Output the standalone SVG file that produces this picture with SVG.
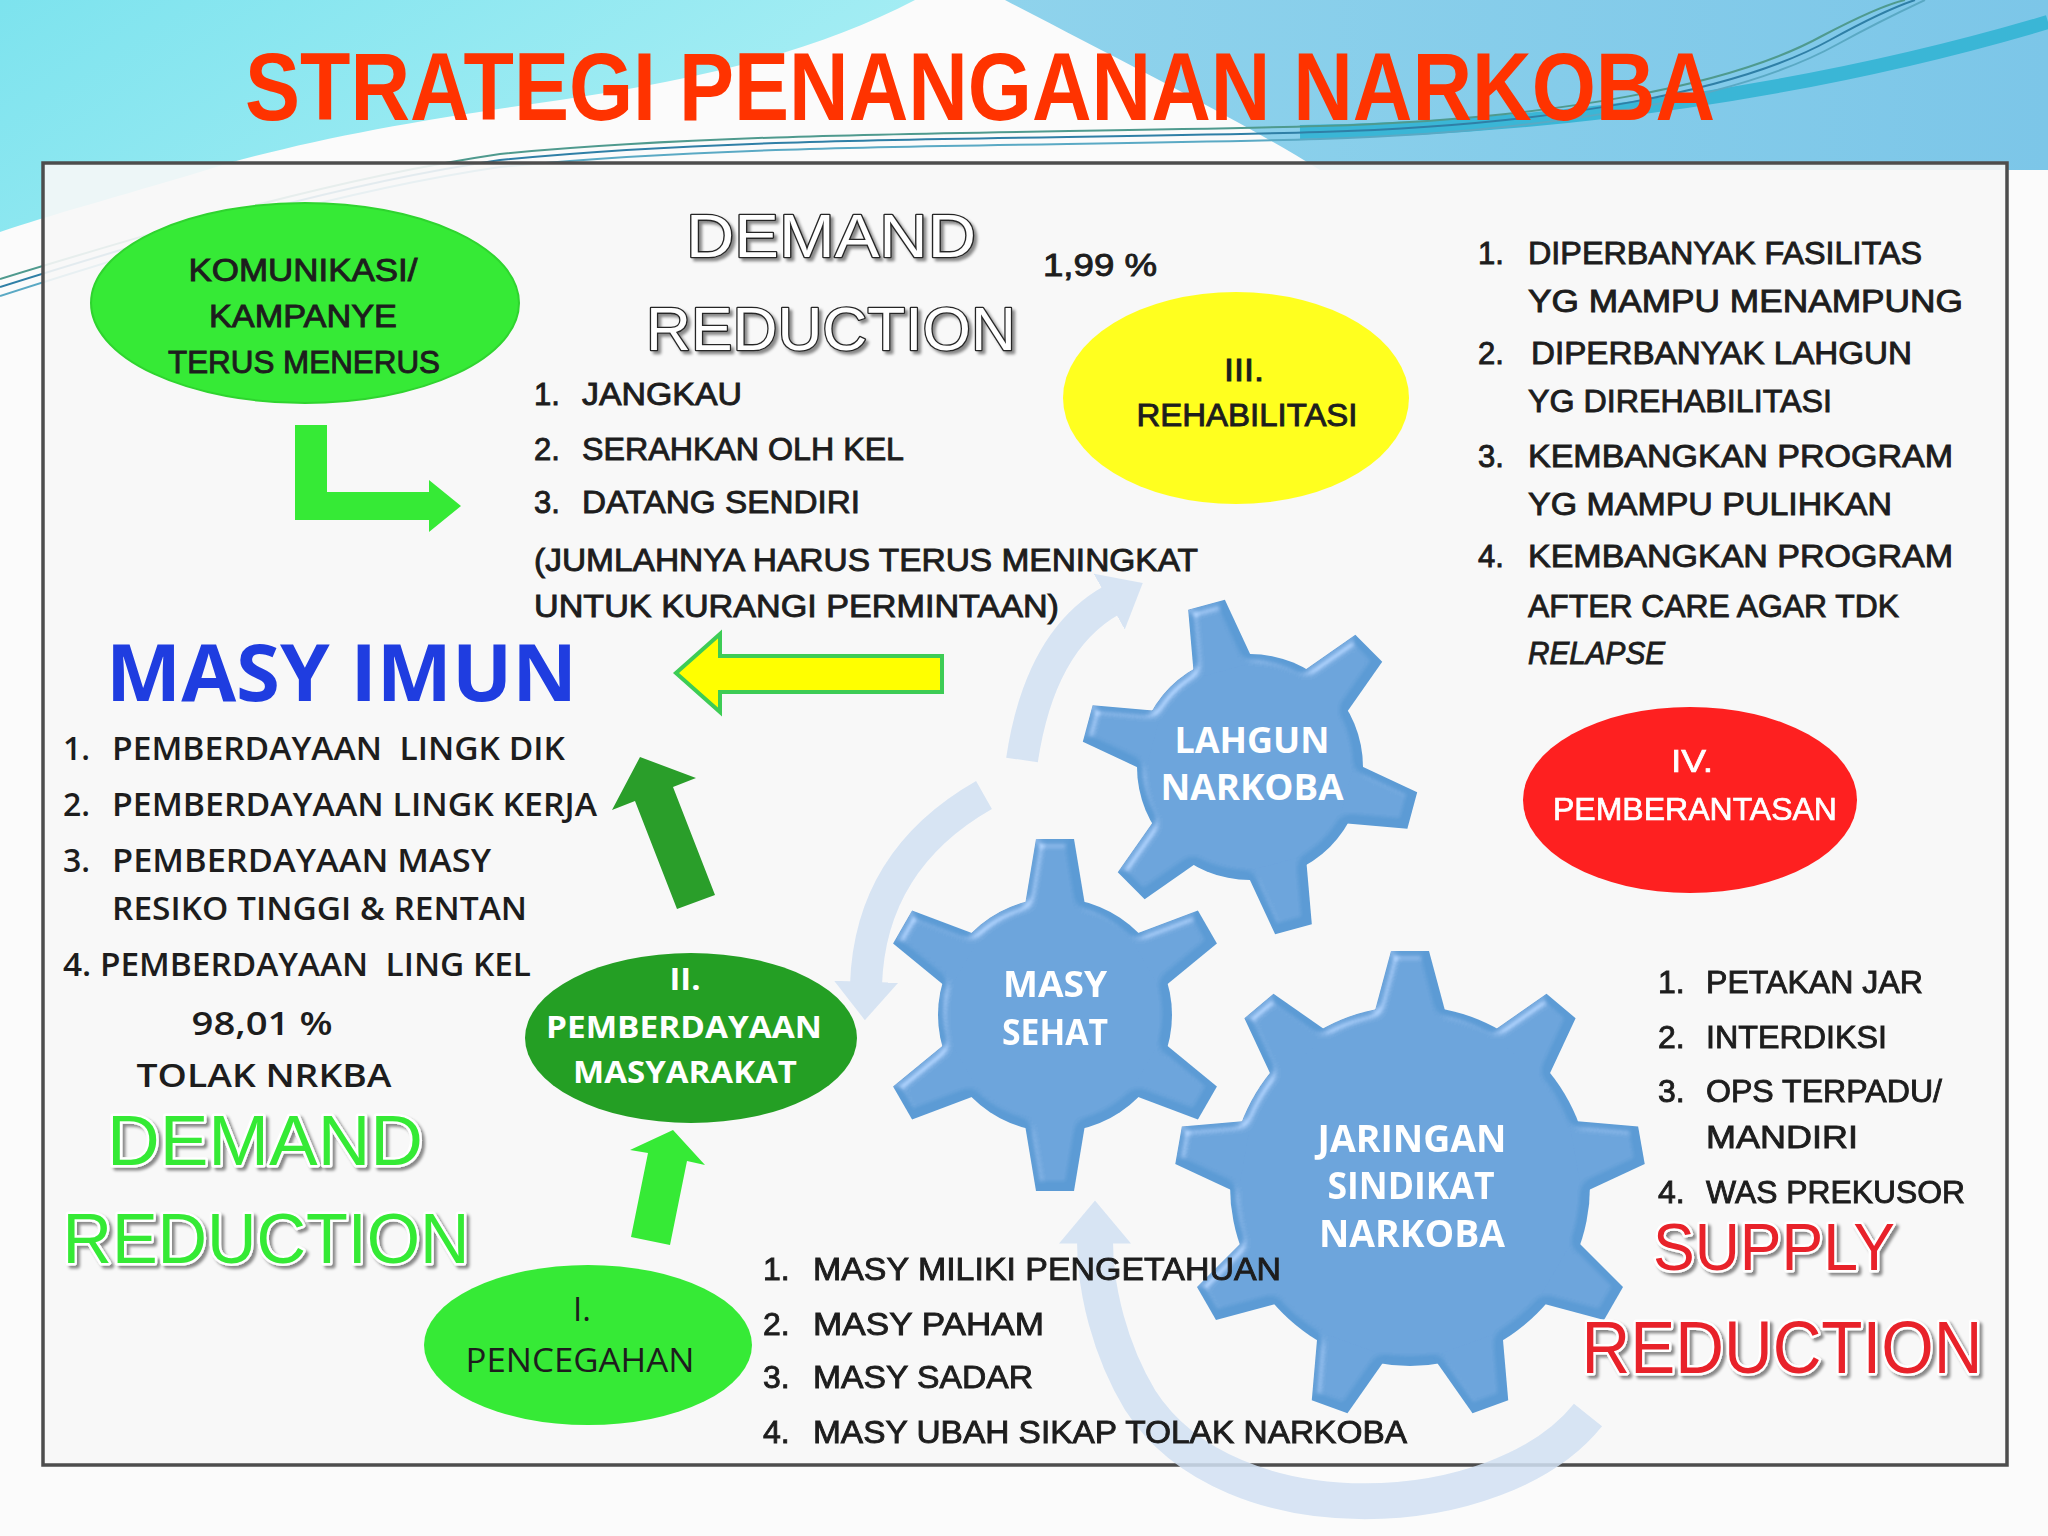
<svg xmlns="http://www.w3.org/2000/svg" width="2048" height="1536" viewBox="0 0 2048 1536">
<defs>
<style>
.cal{font-family:"Liberation Sans",Arial,sans-serif;}
.os{font-family:"Open Sans","Liberation Sans",Arial,sans-serif;}
.dk{fill:#1d1d1d;}
.cal.dk{stroke:#1d1d1d;stroke-width:0.9;}
.cal.wt{stroke:#ffffff;stroke-width:0.7;}
.l31{font-size:31px;}
.l32{font-size:32px;}
.wt{fill:#ffffff;}
.gear{fill:#5b9bd5;}
.arc{fill:none;stroke:#d2e1f3;marker-end:url(#ah);}
.outl{font-family:"Liberation Sans",Arial,sans-serif;paint-order:stroke;stroke-linejoin:round;}
.wave{fill:none;stroke-width:2;}
</style>
<linearGradient id="cyanG" x1="0" y1="0" x2="1" y2="0.4">
<stop offset="0" stop-color="#7de3ee"/>
<stop offset="1" stop-color="#a8eef4"/>
</linearGradient>
<linearGradient id="blueG" x1="0" y1="0" x2="1" y2="0">
<stop offset="0" stop-color="#8fd3ec"/>
<stop offset="1" stop-color="#7cc6e8"/>
</linearGradient>
<filter id="bevel" x="-10%" y="-10%" width="120%" height="120%">
<feGaussianBlur in="SourceAlpha" stdDeviation="5" result="blur"/>
<feSpecularLighting in="blur" surfaceScale="6" specularConstant="0.7" specularExponent="18" lighting-color="#ffffff" result="spec">
<feDistantLight azimuth="225" elevation="40"/>
</feSpecularLighting>
<feComposite in="spec" in2="SourceAlpha" operator="in" result="specIn"/>
<feComposite in="SourceGraphic" in2="specIn" operator="arithmetic" k1="0" k2="1" k3="0.4" k4="0"/>
</filter>
<filter id="tshadow" x="-10%" y="-20%" width="120%" height="150%">
<feDropShadow dx="3" dy="3" stdDeviation="1.6" flood-color="#000" flood-opacity="0.45"/>
</filter>
<marker id="ah" viewBox="0 -10 12 20" refX="1" refY="0" markerWidth="1.2" markerHeight="2" orient="auto" markerUnits="strokeWidth">
<path d="M0,-10 L12,0 L0,10 Z" fill="#d2e1f3"/>
</marker>
<polygon id="toothLa" points="-31,-100 -19,-168 19,-168 31,-100"/>
<polygon id="toothMs" points="-31,-104 -19,-176 19,-176 31,-104"/>
<polygon id="toothJr" points="-37,-168 -19,-235 19,-235 37,-168"/>
</defs>

<!-- background -->
<rect x="0" y="0" width="2048" height="1536" fill="#fbfbfb"/>
<path d="M0 0 L915 0 C 820 50, 700 80, 560 100 C 430 118, 300 140, 200 172 C 120 196, 50 215, 0 232 Z" fill="url(#cyanG)"/>
<path d="M1005 0 H2048 V170 H1320 C 1240 120, 1120 60, 1005 0 Z" fill="url(#blueG)"/>
<path d="M1300 132 C 1560 128, 1820 90, 2048 22" fill="none" stroke="#3ab6d6" stroke-width="14"/>
<path class="wave" stroke="#2f7fa6" d="M0 287 C 150 240, 330 185, 500 160 C 750 135, 1050 140, 1320 132 C 1560 125, 1740 90, 1830 40 C 1870 18, 1900 5, 1915 0"/>
<path class="wave" stroke="#5aa9c4" d="M0 296 C 150 248, 330 192, 500 167 C 750 142, 1050 147, 1320 139 C 1560 132, 1745 96, 1838 44 C 1878 22, 1908 8, 1925 0"/>
<path class="wave" stroke="#4f9a8e" d="M0 279 C 150 233, 330 179, 500 154 C 750 130, 1050 134, 1320 126 C 1560 119, 1735 84, 1822 36 C 1862 15, 1892 3, 1905 0"/>

<!-- title -->
<text x="245" y="120" class="cal" font-size="97" font-weight="bold" fill="#ff3300" textLength="1470" lengthAdjust="spacingAndGlyphs">STRATEGI PENANGANAN NARKOBA</text>

<!-- content box -->
<rect x="43" y="163" width="1964" height="1302" fill="#f7f7f7" fill-opacity="0.9" stroke="#4d4d4d" stroke-width="3.5"/>

<!-- connectors -->
<g id="connectors">
<polygon points="295,425 327,425 327,492 429,492 429,480 461,506 429,532 429,520 295,520" fill="#36ea36"/>
<polygon points="676,673 720,634 720,656 942,656 942,692 720,692 720,712" fill="#ffff00" stroke="#3dcc55" stroke-width="4" stroke-linejoin="miter"/>
<polygon points="640,757 696,778 673,787 715,895 677,909 635,801 612,810" fill="#2a9e2a"/>
<polygon points="673,1130 705,1165 687,1161 670,1245 631,1237 648,1153 630,1150" fill="#36ea36"/>
<g opacity="0.85">
<path class="arc" stroke-width="32" d="M 1022 760 Q 1040 640 1112 600"/>
<path class="arc" stroke-width="32" d="M 984 795 Q 870 860 866 985"/>
<path class="arc" stroke-width="36" d="M 1588 1415 C 1500 1525 1230 1540 1140 1400 C 1110 1350 1095 1290 1095 1240"/>
</g>
</g>

<!-- nodes -->
<g id="komunikasi">
<ellipse cx="305" cy="303" rx="214" ry="100" fill="#36ea36" stroke="#2fd42f" stroke-width="2"/>
<text class="cal dk l31" text-anchor="middle" x="303" y="281" textLength="229" lengthAdjust="spacingAndGlyphs">KOMUNIKASI/</text>
<text class="cal dk l31" text-anchor="middle" x="303" y="327" textLength="188" lengthAdjust="spacingAndGlyphs">KAMPANYE</text>
<text class="cal dk l31" text-anchor="middle" x="304" y="373" textLength="272" lengthAdjust="spacingAndGlyphs">TERUS MENERUS</text>
</g>

<g id="demand-reduction-top" filter="url(#tshadow)">
<text class="outl" text-anchor="middle" x="831" y="257" font-size="62" fill="#ffffff" stroke="#262626" stroke-width="2.6" textLength="290" lengthAdjust="spacingAndGlyphs">DEMAND</text>
<text class="outl" text-anchor="middle" x="831" y="350" font-size="62" fill="#ffffff" stroke="#262626" stroke-width="2.6" textLength="370" lengthAdjust="spacingAndGlyphs">REDUCTION</text>
</g>

<g id="percent-demand">
<text class="cal dk l32" x="1043" y="276" textLength="114" lengthAdjust="spacingAndGlyphs">1,99 %</text>
</g>

<g id="rehabilitasi">
<ellipse cx="1236" cy="398" rx="173" ry="106" fill="#ffff1f"/>
<text class="cal dk l31" text-anchor="middle" x="1244" y="381" textLength="40" lengthAdjust="spacingAndGlyphs">III.</text>
<text class="cal dk l31" text-anchor="middle" x="1247" y="426" textLength="221" lengthAdjust="spacingAndGlyphs">REHABILITASI</text>
</g>

<g id="list-demand">
<text class="cal dk l31" x="534" y="405">1.</text>
<text class="cal dk l31" x="582" y="405" textLength="160" lengthAdjust="spacingAndGlyphs">JANGKAU</text>
<text class="cal dk l31" x="534" y="460">2.</text>
<text class="cal dk l31" x="582" y="460" textLength="322" lengthAdjust="spacingAndGlyphs">SERAHKAN OLH KEL</text>
<text class="cal dk l31" x="534" y="513">3.</text>
<text class="cal dk l31" x="582" y="513" textLength="278" lengthAdjust="spacingAndGlyphs">DATANG SENDIRI</text>
<text class="cal dk l31" x="534" y="571" textLength="664" lengthAdjust="spacingAndGlyphs">(JUMLAHNYA HARUS TERUS MENINGKAT</text>
<text class="cal dk l31" x="534" y="617" textLength="525" lengthAdjust="spacingAndGlyphs">UNTUK KURANGI PERMINTAAN)</text>
</g>

<g id="list-rehabilitasi">
<text class="cal dk l31" x="1478" y="264">1.</text>
<text class="cal dk l31" x="1528" y="264" textLength="394" lengthAdjust="spacingAndGlyphs">DIPERBANYAK FASILITAS</text>
<text class="cal dk l31" x="1528" y="312" textLength="435" lengthAdjust="spacingAndGlyphs">YG MAMPU MENAMPUNG</text>
<text class="cal dk l31" x="1478" y="364">2.</text>
<text class="cal dk l31" x="1531" y="364" textLength="381" lengthAdjust="spacingAndGlyphs">DIPERBANYAK LAHGUN</text>
<text class="cal dk l31" x="1528" y="412" textLength="304" lengthAdjust="spacingAndGlyphs">YG DIREHABILITASI</text>
<text class="cal dk l31" x="1478" y="467">3.</text>
<text class="cal dk l31" x="1528" y="467" textLength="425" lengthAdjust="spacingAndGlyphs">KEMBANGKAN PROGRAM</text>
<text class="cal dk l31" x="1528" y="515" textLength="364" lengthAdjust="spacingAndGlyphs">YG MAMPU PULIHKAN</text>
<text class="cal dk l31" x="1478" y="567">4.</text>
<text class="cal dk l31" x="1528" y="567" textLength="425" lengthAdjust="spacingAndGlyphs">KEMBANGKAN PROGRAM</text>
<text class="cal dk l31" x="1528" y="617" textLength="371" lengthAdjust="spacingAndGlyphs">AFTER CARE AGAR TDK</text>
<text class="cal dk l31" x="1528" y="664" font-style="italic" textLength="137" lengthAdjust="spacingAndGlyphs">RELAPSE</text>
</g>

<g id="masy-imun">
<text class="os" x="106" y="701" font-size="78" font-weight="bold" fill="#1f3de0" textLength="471" lengthAdjust="spacingAndGlyphs">MASY IMUN</text>
</g>

<g id="list-imun" class="os dk" font-size="32" font-weight="600">
<text x="63" y="760">1.</text>
<text x="112" y="760" textLength="453" lengthAdjust="spacingAndGlyphs" xml:space="preserve">PEMBERDAYAAN  LINGK DIK</text>
<text x="63" y="816">2.</text>
<text x="112" y="816" textLength="485" lengthAdjust="spacingAndGlyphs">PEMBERDAYAAN LINGK KERJA</text>
<text x="63" y="872">3.</text>
<text x="112" y="872" textLength="379" lengthAdjust="spacingAndGlyphs">PEMBERDAYAAN MASY</text>
<text x="112" y="920" textLength="415" lengthAdjust="spacingAndGlyphs">RESIKO TINGGI &amp; RENTAN</text>
<text x="63" y="976" textLength="468" lengthAdjust="spacingAndGlyphs" xml:space="preserve">4. PEMBERDAYAAN  LING KEL</text>
<text x="262" y="1035" text-anchor="middle" textLength="141" lengthAdjust="spacingAndGlyphs">98,01 %</text>
<text x="264" y="1087" text-anchor="middle" textLength="255" lengthAdjust="spacingAndGlyphs">TOLAK NRKBA</text>
</g>

<g id="demand-reduction-left" filter="url(#tshadow)">
<text class="outl" text-anchor="middle" x="265" y="1165" font-size="70" fill="#36ea36" stroke="#ffffff" stroke-width="5" textLength="316" lengthAdjust="spacingAndGlyphs">DEMAND</text>
<text class="outl" text-anchor="middle" x="266" y="1263" font-size="70" fill="#36ea36" stroke="#ffffff" stroke-width="5" textLength="407" lengthAdjust="spacingAndGlyphs">REDUCTION</text>
</g>

<g id="pemberdayaan">
<ellipse cx="691" cy="1038" rx="166" ry="85" fill="#249f24"/>
<text class="os wt" text-anchor="middle" x="685" y="990" font-size="31" font-weight="bold" textLength="31" lengthAdjust="spacingAndGlyphs">II.</text>
<text class="os wt" text-anchor="middle" x="684" y="1038" font-size="31" font-weight="bold" textLength="276" lengthAdjust="spacingAndGlyphs">PEMBERDAYAAN</text>
<text class="os wt" text-anchor="middle" x="685" y="1083" font-size="31" font-weight="bold" textLength="224" lengthAdjust="spacingAndGlyphs">MASYARAKAT</text>
</g>

<g id="pencegahan">
<ellipse cx="588" cy="1345" rx="164" ry="80" fill="#36ea36"/>
<text class="os dk" text-anchor="middle" x="582" y="1321" font-size="33">I.</text>
<text class="os dk" text-anchor="middle" x="580" y="1372" font-size="33" textLength="229" lengthAdjust="spacingAndGlyphs">PENCEGAHAN</text>
</g>

<g id="gear-lahgun">
<g class="gear" filter="url(#bevel)" transform="translate(1250,767)">
<circle r="113"/>
<use href="#toothLa" transform="rotate(-15)"/>
<use href="#toothLa" transform="rotate(45)"/>
<use href="#toothLa" transform="rotate(105)"/>
<use href="#toothLa" transform="rotate(165)"/>
<use href="#toothLa" transform="rotate(225)"/>
<use href="#toothLa" transform="rotate(285)"/>
</g>
<text class="os wt" text-anchor="middle" x="1252" y="753" font-size="36" font-weight="bold" textLength="155" lengthAdjust="spacingAndGlyphs">LAHGUN</text>
<text class="os wt" text-anchor="middle" x="1252" y="800" font-size="36" font-weight="bold" textLength="183" lengthAdjust="spacingAndGlyphs">NARKOBA</text>
</g>

<g id="gear-masy-sehat">
<g class="gear" filter="url(#bevel)" transform="translate(1055,1015)">
<circle r="117"/>
<use href="#toothMs"/>
<use href="#toothMs" transform="rotate(60)"/>
<use href="#toothMs" transform="rotate(120)"/>
<use href="#toothMs" transform="rotate(180)"/>
<use href="#toothMs" transform="rotate(240)"/>
<use href="#toothMs" transform="rotate(300)"/>
</g>
<text class="os wt" text-anchor="middle" x="1055" y="997" font-size="36" font-weight="bold" textLength="104" lengthAdjust="spacingAndGlyphs">MASY</text>
<text class="os wt" text-anchor="middle" x="1055" y="1045" font-size="36" font-weight="bold" textLength="106" lengthAdjust="spacingAndGlyphs">SEHAT</text>
</g>

<g id="gear-jaringan">
<g class="gear" filter="url(#bevel)" transform="translate(1410,1186)">
<circle r="180"/>
<use href="#toothJr"/>
<use href="#toothJr" transform="rotate(40)"/>
<use href="#toothJr" transform="rotate(80)"/>
<use href="#toothJr" transform="rotate(120)"/>
<use href="#toothJr" transform="rotate(160)"/>
<use href="#toothJr" transform="rotate(200)"/>
<use href="#toothJr" transform="rotate(240)"/>
<use href="#toothJr" transform="rotate(280)"/>
<use href="#toothJr" transform="rotate(320)"/>
</g>
<text class="os wt" text-anchor="middle" x="1412" y="1152" font-size="38" font-weight="bold" textLength="189" lengthAdjust="spacingAndGlyphs">JARINGAN</text>
<text class="os wt" text-anchor="middle" x="1411" y="1199" font-size="38" font-weight="bold" textLength="167" lengthAdjust="spacingAndGlyphs">SINDIKAT</text>
<text class="os wt" text-anchor="middle" x="1412" y="1247" font-size="38" font-weight="bold" textLength="186" lengthAdjust="spacingAndGlyphs">NARKOBA</text>
</g>

<g id="list-pencegahan">
<text class="cal dk l32" x="763" y="1280">1.</text>
<text class="cal dk l32" x="813" y="1280" textLength="468" lengthAdjust="spacingAndGlyphs">MASY MILIKI PENGETAHUAN</text>
<text class="cal dk l32" x="763" y="1335">2.</text>
<text class="cal dk l32" x="813" y="1335" textLength="231" lengthAdjust="spacingAndGlyphs">MASY PAHAM</text>
<text class="cal dk l32" x="763" y="1388">3.</text>
<text class="cal dk l32" x="813" y="1388" textLength="220" lengthAdjust="spacingAndGlyphs">MASY SADAR</text>
<text class="cal dk l32" x="763" y="1443">4.</text>
<text class="cal dk l32" x="813" y="1443" textLength="594" lengthAdjust="spacingAndGlyphs">MASY UBAH SIKAP TOLAK NARKOBA</text>
</g>

<g id="pemberantasan">
<ellipse cx="1690" cy="800" rx="167" ry="93" fill="#fe2020"/>
<text class="cal wt l31" text-anchor="middle" x="1692" y="772" textLength="42" lengthAdjust="spacingAndGlyphs">IV.</text>
<text class="cal wt l31" text-anchor="middle" x="1695" y="820" textLength="284" lengthAdjust="spacingAndGlyphs">PEMBERANTASAN</text>
</g>

<g id="list-pemberantasan">
<text class="cal dk l32" x="1658" y="993">1.</text>
<text class="cal dk l32" x="1706" y="993" textLength="217" lengthAdjust="spacingAndGlyphs">PETAKAN JAR</text>
<text class="cal dk l32" x="1658" y="1048">2.</text>
<text class="cal dk l32" x="1706" y="1048" textLength="181" lengthAdjust="spacingAndGlyphs">INTERDIKSI</text>
<text class="cal dk l32" x="1658" y="1102">3.</text>
<text class="cal dk l32" x="1706" y="1102" textLength="236" lengthAdjust="spacingAndGlyphs">OPS TERPADU/</text>
<text class="cal dk l32" x="1706" y="1148" textLength="152" lengthAdjust="spacingAndGlyphs">MANDIRI</text>
<text class="cal dk l32" x="1658" y="1203">4.</text>
<text class="cal dk l32" x="1706" y="1203" textLength="259" lengthAdjust="spacingAndGlyphs">WAS PREKUSOR</text>
</g>

<g id="supply-reduction" filter="url(#tshadow)">
<text class="outl" text-anchor="middle" x="1774" y="1270" font-size="66" fill="#e8232b" stroke="#ffffff" stroke-width="5" textLength="242" lengthAdjust="spacingAndGlyphs">SUPPLY</text>
<text class="outl" text-anchor="middle" x="1782" y="1373" font-size="74" fill="#e8232b" stroke="#ffffff" stroke-width="5" textLength="401" lengthAdjust="spacingAndGlyphs">REDUCTION</text>
</g>
</svg>
